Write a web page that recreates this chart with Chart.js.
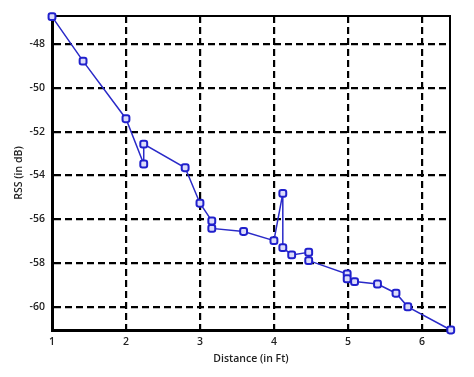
<!DOCTYPE html>
<html>
<head>
<meta charset="utf-8">
<script src="https://cdn.jsdelivr.net/npm/chart.js@4/dist/chart.umd.min.js"></script>
<style>
  html, body { margin: 0; padding: 0; background: #fff; }
  #wrap { width: 474px; height: 377px; }
</style>
</head>
<body>
<div id="wrap"><canvas id="rssChart"></canvas></div>
<script>
const distances = [1.0, 1.42, 2.0, 2.24, 2.24, 2.80, 3.0, 3.16, 3.16, 3.59, 4.0, 4.12, 4.12, 4.24, 4.47, 4.47, 4.99, 4.99, 5.09, 5.40, 5.65, 5.81, 6.39];
const rss = [-46.75, -48.78, -51.41, -53.48, -52.57, -53.65, -55.27, -56.08, -56.42, -56.56, -56.98, -54.82, -57.3, -57.63, -57.51, -57.89, -58.5, -58.72, -58.85, -58.96, -59.38, -60.0, -61.06];
const xTicks = [1, 2, 3, 4, 5, 6];
const yTicks = [-60, -58, -56, -54, -52, -50, -48];

const points = distances.map((d, i) => ({ x: d, y: rss[i] }));

const tickFont = { family: "'Open Sans', sans-serif", size: 10.5, weight: "600" };

const frame = {
  id: "frame",
  beforeDatasetsDraw(chart) {
    const { ctx, chartArea: a } = chart;
    ctx.save();
    ctx.strokeStyle = "#000";
    ctx.lineWidth = 2;
    ctx.strokeRect(a.left, a.top, a.right - a.left, a.bottom - a.top);
    ctx.restore();
  },
};

new Chart(document.getElementById("rssChart"), {
  type: "scatter",
  data: {
    datasets: [
      {
        data: points,
        showLine: true,
        borderColor: "#2a2ac8",
        borderWidth: 1.5,
        pointStyle: "rectRounded",
        pointRadius: 4,
        pointBorderWidth: 2,
        pointBorderColor: "#2020cc",
        pointBackgroundColor: "#dcdcfa",
        clip: false,
      },
    ],
  },
  options: {
    responsive: true,
    maintainAspectRatio: false,
    animation: false,
    layout: { padding: { top: 16, right: 24, left: 0, bottom: 0 } },
    plugins: {
      legend: { display: false },
      tooltip: { enabled: false },
    },
    scales: {
      x: {
        type: "linear",
        min: 1,
        max: 6.38,
        afterFit: (s) => { s.height = 47; },
        afterBuildTicks: (s) => { s.ticks = xTicks.map((v) => ({ value: v })); },
        grid: { color: "#000", lineWidth: 2.2, drawTicks: false },
        border: { display: true, color: "#000", width: 3, dash: [7, 4] },
        ticks: { color: "#222", font: tickFont, padding: 6 },
        title: {
          display: true,
          text: "Distance (in Ft)",
          color: "#222",
          font: tickFont,
          padding: { top: 0, bottom: 12 },
        },
      },
      y: {
        min: -61.06,
        max: -46.72,
        afterFit: (s) => { s.width = 52; },
        afterBuildTicks: (s) => { s.ticks = yTicks.map((v) => ({ value: v })); },
        grid: { color: "#000", lineWidth: 2.2, drawTicks: false },
        border: { display: true, color: "#000", width: 3, dash: [7, 4] },
        ticks: { color: "#222", font: tickFont, padding: 7 },
        title: {
          display: true,
          text: "RSS (in dB)",
          color: "#222",
          font: tickFont,
          padding: { top: 13, bottom: 0 },
        },
      },
    },
  },
  plugins: [frame],
});
</script>
</body>
</html>
